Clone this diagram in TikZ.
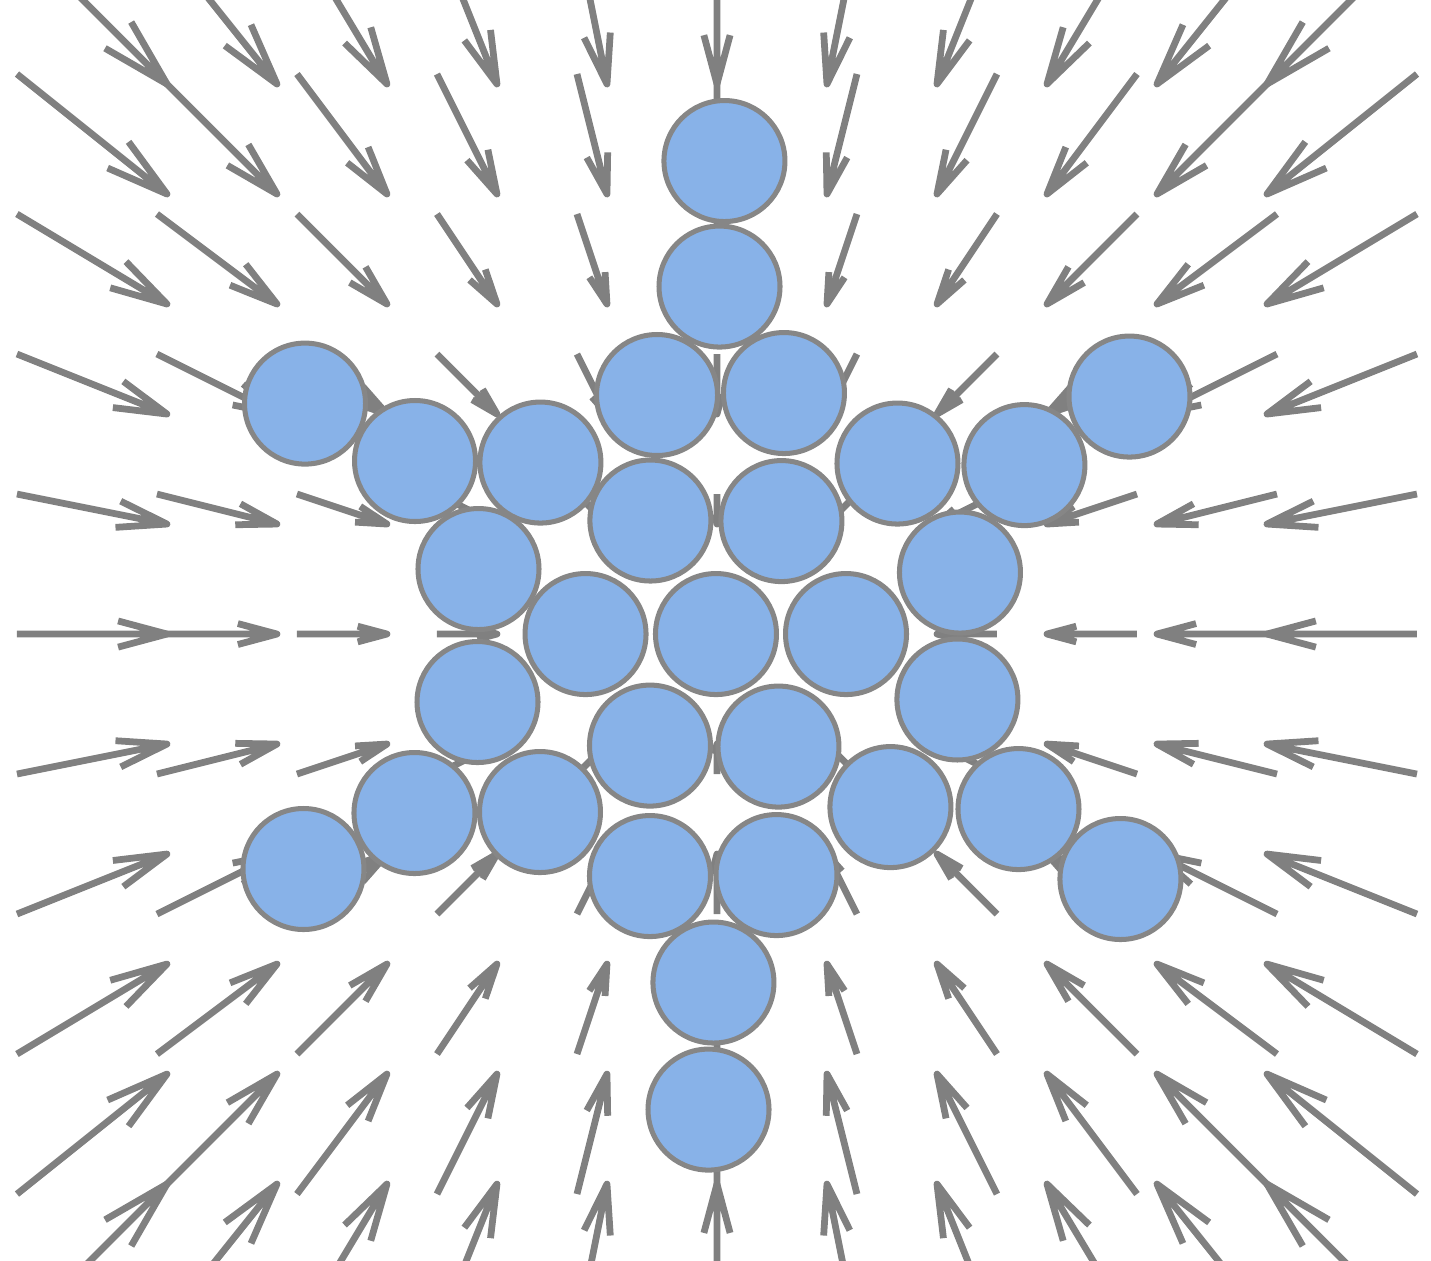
\documentclass[tikz,border=0pt]{standalone}
\usetikzlibrary{calc}
\definecolor{diskblue}{RGB}{136,178,232}
\definecolor{diskedge}{RGB}{134,134,134}
\definecolor{fieldgray}{RGB}{128,128,128}
\begin{document}
\begin{tikzpicture}[
  disk/.style={circle, minimum size=1.1cm, inner sep=0pt, fill=diskblue, draw=diskedge, line width=1.3pt},
  field/.style={fieldgray, line width=1.75pt, line join=round}]
\useasboundingbox (-6.518,-5.691) rectangle (6.491,5.764);
% field arrows, pointing to the middle
\begin{scope}
\clip (-6.518,-5.691) rectangle (6.491,5.764);
\foreach \i in {-5,...,5}
  \foreach \j in {-5,...,5}{
    \pgfmathsetmacro\hl{0.092*veclen(\i,\j)}
    \ifdim\hl pt>0pt
      \coordinate (tail) at ({14/11*\i},{14/11*\j});
      \coordinate (tip) at (\i,\j);
      \draw[field] (tail) -- (tip) ($(tip)!\hl cm!15:(tail)$) -- (tip) -- ($(tip)!\hl cm!-15:(tail)$);
    \fi
  }
\end{scope}
% particles
\node[disk] (p0) at (0.068,4.300){};
\node[disk] (p1) at (0.023,3.159){};
\node[disk] (p2) at (-0.545,2.173){};
\node[disk] (p3) at (0.609,2.191){};
\node[disk] (p4) at (-3.745,2.095){};
\node[disk] (p5) at (-2.745,1.573){};
\node[disk] (p6) at (-1.605,1.559){};
\node[disk] (p7) at (-0.605,1.032){};
\node[disk] (p8) at (0.586,1.027){};
\node[disk] (p9) at (1.641,1.550){};
\node[disk] (p10) at (2.795,1.536){};
\node[disk] (p11) at (3.750,2.159){};
\node[disk] (p12) at (-2.168,0.591){};
\node[disk] (p13) at (2.209,0.559){};
\node[disk] (p14) at (-1.195,0){};
\node[disk] (p15) at (-0.009,0){};
\node[disk] (p16) at (1.173,0){};
\node[disk] (p17) at (-2.177,-0.618){};
\node[disk] (p18) at (2.186,-0.595){};
\node[disk] (p19) at (-0.609,-1.014){};
\node[disk] (p20) at (0.559,-1.023){};
\node[disk] (p21) at (-2.750,-1.627){};
\node[disk] (p22) at (-1.609,-1.618){};
\node[disk] (p23) at (1.577,-1.573){};
\node[disk] (p24) at (2.741,-1.591){};
\node[disk] (p25) at (-3.759,-2.136){};
\node[disk] (p26) at (3.668,-2.227){};
\node[disk] (p27) at (-0.609,-2.200){};
\node[disk] (p28) at (0.541,-2.191){};
\node[disk] (p29) at (-0.032,-3.168){};
\node[disk] (p30) at (-0.077,-4.323){};
\end{tikzpicture}
\end{document}
